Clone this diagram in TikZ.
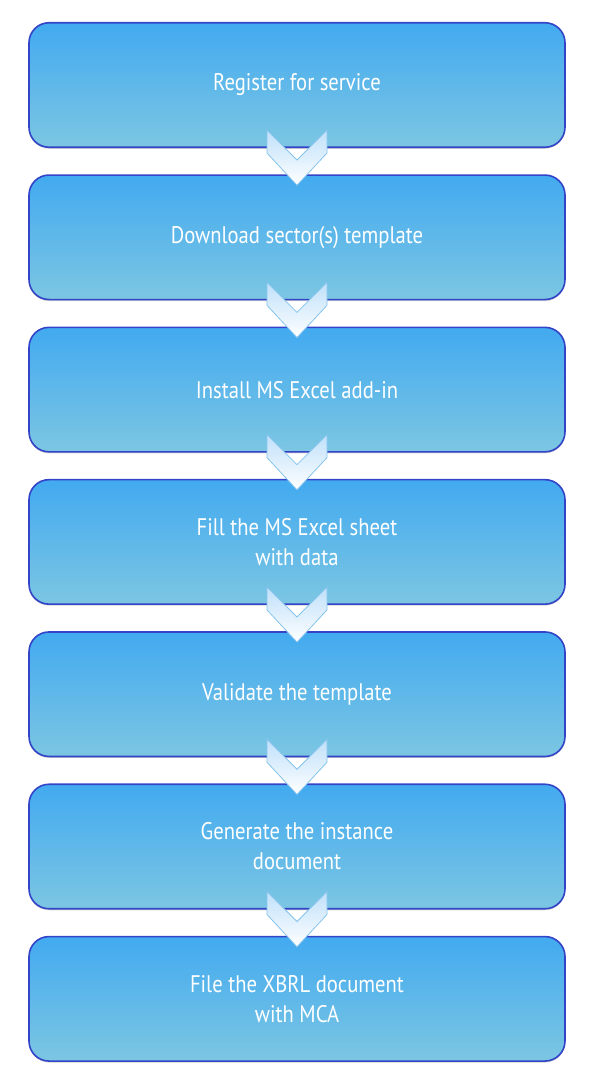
\documentclass[tikz,border=0pt]{standalone}
\usepackage{fontspec}
\setmainfont{PT Sans}[FakeStretch=0.86]
\usetikzlibrary{positioning, shadows, calc}

\definecolor{boxtop}{HTML}{42AAF0}
\definecolor{boxbottom}{HTML}{7CC6E2}
\definecolor{boxline}{HTML}{3344C8}
\definecolor{arrowtop}{HTML}{BFE0FA}
\definecolor{arrowline}{HTML}{86C4EE}

\begin{document}
\begin{tikzpicture}[
		x=1pt, y=-1pt,
		node distance=26.2pt,
		% --- styles ---
		stepbox/.style={
			rectangle, draw=boxline, line width=1.6pt, rounded corners=20pt,
			top color=boxtop, bottom color=boxbottom,
			drop shadow={shadow xshift=0pt, shadow yshift=-1.5pt, opacity=0.35},
			minimum width=536pt, minimum height=124.5pt, align=center,
			text=white, font=\fontsize{24}{30}\selectfont
		},
		chevron/.style={
			draw=arrowline, line width=0.8pt, top color=arrowtop, bottom color=white
		}
	]

	\useasboundingbox (0,0) rectangle (595,1089);

	% steps
	\node [stepbox] (s1) at (297,85) {Register for service};
	\node [stepbox, below=of s1] (s2) {Download sector(s) template};
	\node [stepbox, below=of s2] (s3) {Install MS Excel add-in};
	\node [stepbox, below=of s3] (s4) {Fill the MS Excel sheet\\ with data};
	\node [stepbox, below=of s4] (s5) {Validate the template};
	\node [stepbox, below=of s5] (s6) {Generate the instance\\ document};
	\node [stepbox, below=of s6] (s7) {File the XBRL document\\ with MCA};

	% chevrons between the steps
	\foreach \a/\b in {s1/s2, s2/s3, s3/s4, s4/s5, s5/s6, s6/s7} {
		\coordinate (tip) at ($(\b.north)+(0,11)$);
		\path [chevron] ($(\a.south)+(-30,-18)$) -- ++(0,23) -- (tip)
			-- ($(\a.south)+(30,5)$) -- ++(0,-23) -- ($(\a.south)+(0,12)$) -- cycle;
	}
\end{tikzpicture}
\end{document}
